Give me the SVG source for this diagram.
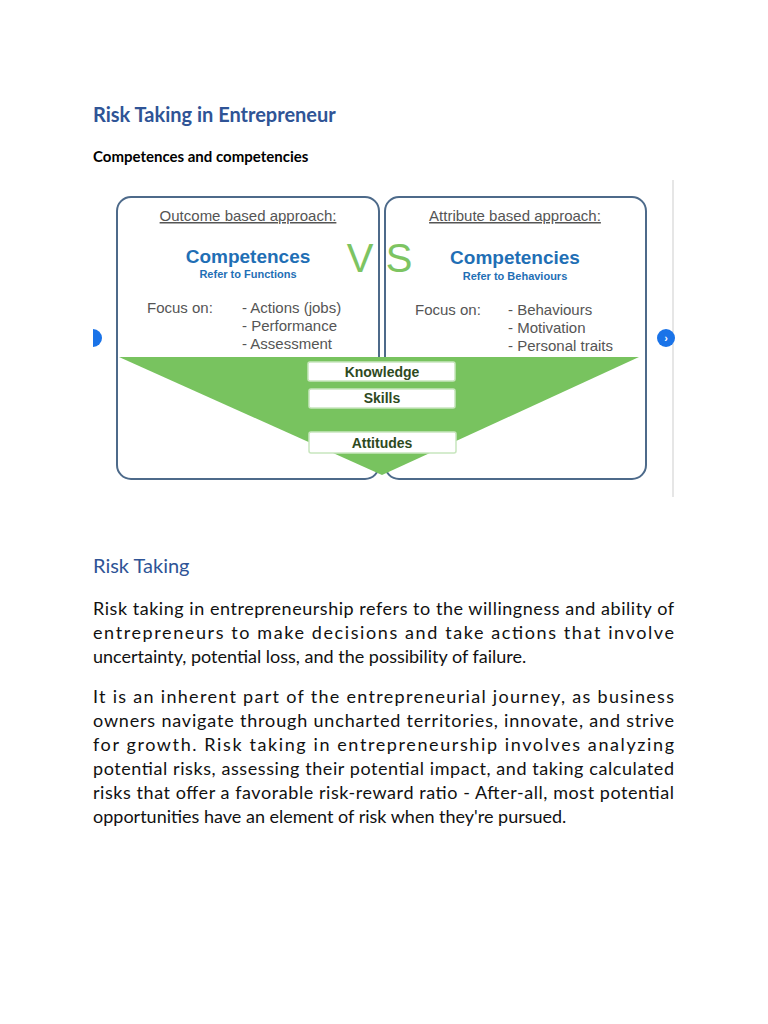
<svg xmlns="http://www.w3.org/2000/svg" width="768" height="1024" viewBox="0 0 768 1024">
<style>
.h{font-family:Lato,"Liberation Sans",sans-serif;fill:#2F5496}
.b{font-family:Lato,"Liberation Sans",sans-serif;font-size:18px;fill:#111}
.d{font-family:"Liberation Sans",Arial,sans-serif}
.g{fill:#555;font-size:15px}
.t{fill:#1F6FB5;font-weight:bold}
.box{fill:#fff;stroke:#4D6A8A;stroke-width:2}
.lab{fill:#fff;stroke:#C8E6BE;stroke-width:1.5}
.lt{fill:#2E4A1E;font-weight:bold;font-size:14px}
</style>
<rect width="768" height="1024" fill="#fff"/>
<text class="h" x="93" y="122" font-size="20" font-weight="bold">Risk Taking in Entrepreneur</text>
<text x="93" y="162" font-family="Lato,'Liberation Sans',sans-serif" font-size="15" font-weight="bold" fill="#000">Competences and competencies</text>
<g id="diagram">
<line x1="673" y1="180" x2="673" y2="497" stroke="#e6e6e6" stroke-width="2"/>
<g id="left-box"><rect class="box" x="117" y="197" width="262" height="282" rx="14"/>
<text class="d g" x="248" y="221" text-anchor="middle" text-decoration="underline">Outcome based approach:</text>
<text class="d t" x="248" y="263" text-anchor="middle" font-size="19">Competences</text>
<text class="d t" x="248" y="278" text-anchor="middle" font-size="11">Refer to Functions</text>
<text class="d g" x="147" y="313">Focus on:</text>
<text class="d g" x="242" y="313">- Actions (jobs)</text>
<text class="d g" x="242" y="331">- Performance</text>
<text class="d g" x="242" y="349">- Assessment</text></g>
<g id="right-box"><rect class="box" x="385" y="197" width="261" height="282" rx="14"/>
<text class="d g" x="515" y="221" text-anchor="middle" text-decoration="underline">Attribute based approach:</text>
<text class="d t" x="515" y="264" text-anchor="middle" font-size="19">Competencies</text>
<text class="d t" x="515" y="280" text-anchor="middle" font-size="11">Refer to Behaviours</text>
<text class="d g" x="415" y="315">Focus on:</text>
<text class="d g" x="508" y="315">- Behaviours</text>
<text class="d g" x="508" y="333">- Motivation</text>
<text class="d g" x="508" y="351">- Personal traits</text></g>
<text class="d" x="360" y="272" text-anchor="middle" font-size="40" fill="#7DC462">V</text>
<text class="d" x="399" y="272" text-anchor="middle" font-size="40" fill="#7DC462">S</text>
<g id="funnel"><polygon points="119,357 639,357 382,475" fill="#78C35F"/>
<g id="knowledge"><rect class="lab" x="308" y="362" width="147" height="19" rx="2"/><text class="d lt" x="382" y="377" text-anchor="middle">Knowledge</text></g>
<g id="skills"><rect class="lab" x="309" y="389" width="146" height="19" rx="2"/><text class="d lt" x="382" y="403" text-anchor="middle">Skills</text></g>
<g id="attitudes"><rect class="lab" x="309" y="432" width="147" height="21" rx="2"/><text class="d lt" x="382" y="448" text-anchor="middle">Attitudes</text></g></g>
<path d="M93,329 A9,9 0 0 1 93,347 Z" fill="#1A73E8"/>
<circle cx="666" cy="338" r="9" fill="#1A73E8"/>
<text class="d" x="666" y="342" text-anchor="middle" font-size="11" fill="#fff" font-weight="bold">›</text>
</g>
<text class="h" x="93" y="573" font-size="20">Risk Taking</text>
<g class="b">
<text x="93" y="615" textLength="581" lengthAdjust="spacing">Risk taking in entrepreneurship refers to the willingness and ability of</text>
<text x="93" y="639" textLength="581" lengthAdjust="spacing">entrepreneurs to make decisions and take actions that involve</text>
<text x="93" y="663">uncertainty, potential loss, and the possibility of failure.</text>
<text x="93" y="703" textLength="581" lengthAdjust="spacing">It is an inherent part of the entrepreneurial journey, as business</text>
<text x="93" y="727" textLength="581" lengthAdjust="spacing">owners navigate through uncharted territories, innovate, and strive</text>
<text x="93" y="751" textLength="581" lengthAdjust="spacing">for growth. Risk taking in entrepreneurship involves analyzing</text>
<text x="93" y="775" textLength="581" lengthAdjust="spacing">potential risks, assessing their potential impact, and taking calculated</text>
<text x="93" y="799" textLength="581" lengthAdjust="spacing">risks that offer a favorable risk-reward ratio - After-all, most potential</text>
<text x="93" y="823">opportunities have an element of risk when they're pursued.</text>
</g>
</svg>
